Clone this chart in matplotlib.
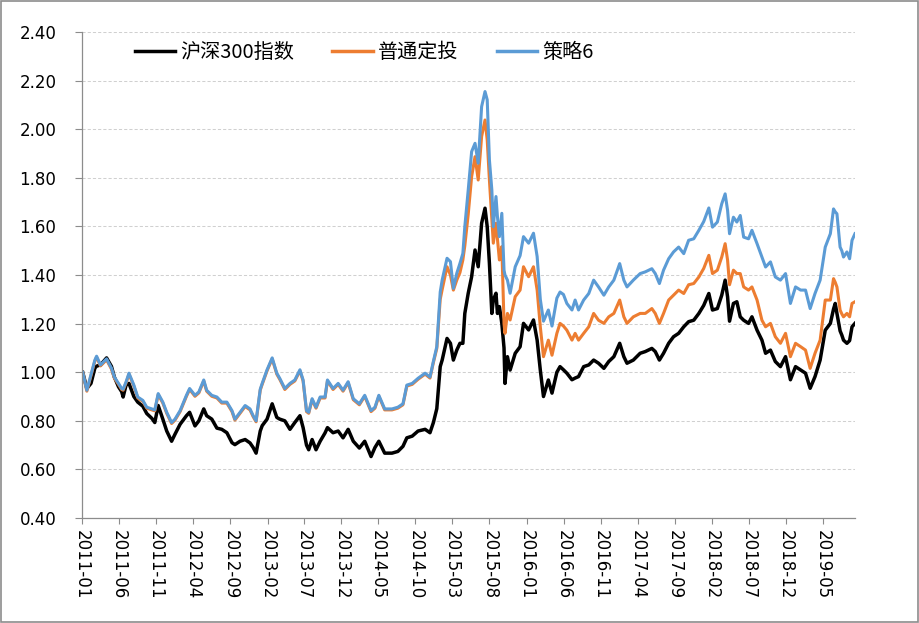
import pandas as pd
import matplotlib
matplotlib.use("Agg")
import matplotlib.pyplot as plt
import matplotlib.dates as mdates
from matplotlib.patches import Rectangle

plt.rcParams['font.family'] = ['DejaVu Sans']

# values (normalised net value)
dates = [
    "2011-01-04", "2011-01-21", "2011-02-07", "2011-02-23", "2011-03-02", "2011-03-18",
    "2011-04-12", "2011-05-02", "2011-05-14", "2011-05-31", "2011-06-13", "2011-06-19",
    "2011-07-01", "2011-07-13", "2011-08-02", "2011-08-18", "2011-09-08", "2011-09-24",
    "2011-10-15", "2011-10-27", "2011-11-10", "2011-11-29", "2011-12-15", "2012-01-04",
    "2012-01-18", "2012-02-08", "2012-03-05", "2012-03-18", "2012-04-09", "2012-04-25",
    "2012-05-15", "2012-05-27", "2012-06-17", "2012-07-08", "2012-07-28", "2012-08-18",
    "2012-09-08", "2012-09-20", "2012-10-11", "2012-11-01", "2012-11-21", "2012-12-04",
    "2012-12-16", "2013-01-02", "2013-01-10", "2013-01-30", "2013-02-20", "2013-03-11",
    "2013-03-23", "2013-04-13", "2013-05-04", "2013-05-24", "2013-06-14", "2013-06-27",
    "2013-07-11", "2013-07-20", "2013-08-03", "2013-08-19", "2013-09-05", "2013-09-25",
    "2013-10-05", "2013-10-28", "2013-11-18", "2013-12-08", "2013-12-29", "2014-01-19",
    "2014-02-13", "2014-03-07", "2014-04-02", "2014-04-18", "2014-05-04", "2014-05-28",
    "2014-06-27", "2014-07-21", "2014-08-11", "2014-08-27", "2014-09-18", "2014-10-12",
    "2014-11-10", "2014-11-30", "2014-12-14", "2014-12-28", "2015-01-11", "2015-01-19",
    "2015-02-08", "2015-02-22", "2015-03-06", "2015-03-20", "2015-04-02", "2015-04-14",
    "2015-04-22", "2015-05-06", "2015-05-20", "2015-06-03", "2015-06-16", "2015-06-30",
    "2015-07-14", "2015-07-23", "2015-08-01", "2015-08-11", "2015-08-17", "2015-08-28",
    "2015-09-03", "2015-09-11", "2015-09-21", "2015-09-30", "2015-10-04", "2015-10-14",
    "2015-10-25", "2015-11-15", "2015-12-05", "2015-12-19", "2016-01-09", "2016-01-29",
    "2016-02-13", "2016-02-26", "2016-03-10", "2016-03-30", "2016-04-14", "2016-05-04",
    "2016-05-17", "2016-05-31", "2016-06-14", "2016-07-05", "2016-07-18", "2016-08-01",
    "2016-08-22", "2016-09-12", "2016-10-02", "2016-10-22", "2016-11-13", "2016-12-03",
    "2016-12-24", "2017-01-17", "2017-02-03", "2017-02-16", "2017-03-14", "2017-04-11",
    "2017-05-02", "2017-05-29", "2017-06-12", "2017-06-29", "2017-07-16", "2017-08-06",
    "2017-08-26", "2017-09-16", "2017-10-07", "2017-10-27", "2017-11-17", "2017-12-08",
    "2017-12-28", "2018-01-18", "2018-02-02", "2018-02-22", "2018-03-12", "2018-03-26",
    "2018-04-05", "2018-04-13", "2018-04-29", "2018-05-13", "2018-05-27", "2018-06-10",
    "2018-06-30", "2018-07-14", "2018-08-04", "2018-08-24", "2018-09-08", "2018-09-28",
    "2018-10-18", "2018-11-08", "2018-11-29", "2018-12-19", "2019-01-09", "2019-01-30",
    "2019-02-19", "2019-03-10", "2019-03-30", "2019-04-20", "2019-05-11", "2019-06-01",
    "2019-06-14", "2019-06-21", "2019-06-28", "2019-07-11", "2019-07-18", "2019-07-25",
    "2019-08-08", "2019-08-19", "2019-08-29", "2019-09-10",
]

hs300 = [
    1.000, 0.933, 0.954, 1.017, 1.025, 1.030, 1.059, 1.024, 0.980, 0.940, 0.920, 0.898,
    0.947, 0.954, 0.900, 0.877, 0.860, 0.830, 0.810, 0.793, 0.863, 0.807, 0.758, 0.716,
    0.745, 0.786, 0.821, 0.835, 0.779, 0.800, 0.849, 0.821, 0.807, 0.770, 0.765, 0.751,
    0.710, 0.702, 0.716, 0.723, 0.709, 0.690, 0.667, 0.758, 0.780, 0.807, 0.870, 0.814,
    0.807, 0.800, 0.765, 0.793, 0.821, 0.772, 0.700, 0.681, 0.723, 0.681, 0.716, 0.750,
    0.772, 0.751, 0.758, 0.730, 0.765, 0.716, 0.688, 0.716, 0.653, 0.690, 0.716, 0.667,
    0.667, 0.674, 0.695, 0.730, 0.737, 0.758, 0.765, 0.751, 0.793, 0.850, 1.023, 1.050,
    1.139, 1.119, 1.050, 1.091, 1.119, 1.119, 1.242, 1.325, 1.393, 1.503, 1.434, 1.613,
    1.675, 1.599, 1.448, 1.242, 1.297, 1.325, 1.242, 1.270, 1.201, 1.100, 0.954, 1.064,
    1.009, 1.078, 1.105, 1.201, 1.174, 1.215, 1.132, 1.009, 0.900, 0.968, 0.914, 1.000,
    1.023, 1.010, 0.996, 0.969, 0.976, 0.982, 1.023, 1.030, 1.050, 1.037, 1.016, 1.044,
    1.064, 1.119, 1.064, 1.037, 1.050, 1.078, 1.085, 1.098, 1.085, 1.050, 1.078, 1.119,
    1.146, 1.160, 1.187, 1.208, 1.214, 1.242, 1.275, 1.324, 1.256, 1.262, 1.317, 1.379,
    1.310, 1.210, 1.283, 1.290, 1.228, 1.214, 1.201, 1.228, 1.173, 1.132, 1.078, 1.091,
    1.044, 1.023, 1.064, 0.969, 1.023, 1.009, 0.996, 0.934, 0.982, 1.050, 1.173, 1.201,
    1.260, 1.283, 1.242, 1.170, 1.153, 1.132, 1.119, 1.130, 1.187, 1.201,
]

dca = [
    1.000, 0.922, 0.986, 1.046, 1.062, 1.026, 1.051, 1.013, 0.976, 0.950, 0.929, 0.926,
    0.956, 0.992, 0.943, 0.894, 0.880, 0.852, 0.845, 0.841, 0.908, 0.873, 0.831, 0.789,
    0.803, 0.838, 0.901, 0.929, 0.901, 0.915, 0.964, 0.922, 0.901, 0.894, 0.873, 0.873,
    0.838, 0.803, 0.831, 0.859, 0.845, 0.817, 0.796, 0.926, 0.950, 1.006, 1.055, 0.992,
    0.971, 0.929, 0.950, 0.964, 1.006, 0.964, 0.838, 0.831, 0.887, 0.852, 0.894, 0.894,
    0.964, 0.929, 0.950, 0.922, 0.957, 0.887, 0.866, 0.901, 0.838, 0.852, 0.901, 0.845,
    0.845, 0.852, 0.866, 0.943, 0.950, 0.971, 0.992, 0.976, 1.040, 1.098, 1.300, 1.340,
    1.434, 1.400, 1.338, 1.379, 1.410, 1.462, 1.520, 1.650, 1.805, 1.887, 1.791, 1.970,
    2.038, 1.956, 1.791, 1.627, 1.531, 1.613, 1.550, 1.462, 1.517, 1.200, 1.160, 1.242,
    1.215, 1.311, 1.338, 1.434, 1.393, 1.434, 1.338, 1.187, 1.064, 1.132, 1.070, 1.160,
    1.201, 1.190, 1.173, 1.132, 1.160, 1.132, 1.160, 1.187, 1.242, 1.214, 1.201, 1.228,
    1.242, 1.297, 1.228, 1.201, 1.228, 1.242, 1.242, 1.262, 1.242, 1.201, 1.242, 1.297,
    1.317, 1.338, 1.324, 1.360, 1.365, 1.392, 1.427, 1.481, 1.406, 1.420, 1.474, 1.529,
    1.461, 1.360, 1.420, 1.406, 1.406, 1.351, 1.338, 1.351, 1.297, 1.214, 1.187, 1.201,
    1.146, 1.119, 1.160, 1.064, 1.119, 1.105, 1.091, 1.016, 1.078, 1.132, 1.297, 1.297,
    1.385, 1.370, 1.351, 1.256, 1.240, 1.228, 1.242, 1.228, 1.283, 1.290,
]

strategy6 = [
    1.000, 0.926, 0.990, 1.050, 1.066, 1.030, 1.055, 1.017, 0.980, 0.954, 0.933, 0.930,
    0.960, 0.996, 0.947, 0.898, 0.884, 0.856, 0.849, 0.845, 0.912, 0.877, 0.835, 0.793,
    0.807, 0.842, 0.905, 0.933, 0.905, 0.919, 0.968, 0.926, 0.905, 0.898, 0.877, 0.877,
    0.842, 0.807, 0.835, 0.863, 0.849, 0.821, 0.800, 0.930, 0.954, 1.010, 1.059, 0.996,
    0.975, 0.933, 0.954, 0.968, 1.010, 0.968, 0.842, 0.835, 0.891, 0.856, 0.898, 0.898,
    0.968, 0.933, 0.954, 0.926, 0.961, 0.891, 0.870, 0.905, 0.842, 0.856, 0.905, 0.849,
    0.849, 0.856, 0.870, 0.947, 0.954, 0.975, 0.996, 0.980, 1.045, 1.105, 1.330, 1.379,
    1.469, 1.455, 1.345, 1.407, 1.448, 1.489, 1.599, 1.750, 1.908, 1.942, 1.860, 2.093,
    2.155, 2.121, 1.874, 1.750, 1.599, 1.723, 1.640, 1.558, 1.654, 1.420, 1.400, 1.379,
    1.325, 1.434, 1.480, 1.558, 1.531, 1.572, 1.476, 1.300, 1.210, 1.256, 1.190, 1.305,
    1.330, 1.320, 1.283, 1.256, 1.297, 1.256, 1.297, 1.324, 1.379, 1.351, 1.317, 1.351,
    1.379, 1.447, 1.379, 1.351, 1.379, 1.406, 1.413, 1.426, 1.406, 1.365, 1.420, 1.467,
    1.495, 1.515, 1.488, 1.543, 1.549, 1.584, 1.620, 1.676, 1.597, 1.618, 1.693, 1.734,
    1.666, 1.570, 1.638, 1.618, 1.645, 1.556, 1.549, 1.584, 1.529, 1.474, 1.433, 1.454,
    1.392, 1.379, 1.406, 1.283, 1.351, 1.338, 1.338, 1.262, 1.324, 1.379, 1.515, 1.570,
    1.672, 1.660, 1.652, 1.515, 1.500, 1.474, 1.495, 1.467, 1.543, 1.570,
]

series_names = ["沪深300指数", "普通定投", "策略6"]
series_colors = ["#000000", "#ED7D31", "#5B9BD5"]

x = pd.to_datetime(dates)

fig = plt.figure(figsize=(9.2, 6.23), dpi=100)
ax = fig.add_axes([0.0891, 0.1685, 0.8402, 0.7801])

for vals, name, col, lw in zip([hs300, dca, strategy6], series_names, series_colors,
                               [2.5, 2.2, 2.2]):
    ax.plot(x, vals, color=col, lw=lw, label=name, solid_joinstyle="round")

ax.set_ylim(0.4, 2.4)
ax.set_yticks([0.4 + 0.2 * i for i in range(11)])
ax.yaxis.set_major_formatter(plt.FormatStrFormatter("%.2f"))
ax.set_xlim(pd.Timestamp("2011-01-01"), pd.Timestamp("2019-09-10"))

tick_dates = pd.date_range("2011-01-01", "2019-05-01", freq="5MS")
ax.set_xticks(tick_dates)
ax.xaxis.set_major_formatter(mdates.DateFormatter("%Y-%m"))
plt.setp(ax.get_xticklabels(), rotation=270, ha="center", va="top")

ax.grid(axis="y", color="#D0D0D0", linestyle=(0, (3, 2)), linewidth=0.75)
ax.set_axisbelow(True)

for side in ["top", "right"]:
    ax.spines[side].set_visible(False)
for side in ["left", "bottom"]:
    ax.spines[side].set_color("#8C8C8C")
    ax.spines[side].set_linewidth(0.9)

ax.tick_params(axis="y", direction="out", length=5, color="#8C8C8C", pad=13.5,
               labelsize=12, labelcolor="#000000")
ax.tick_params(axis="x", direction="out", length=4.5, color="#8C8C8C", pad=4,
               labelsize=12, labelcolor="#000000")

leg = ax.legend(loc="center left", bbox_to_anchor=(0.0556, 0.957), ncol=3,
                frameon=False, borderpad=0, handlelength=2.0, handletextpad=0.25,
                columnspacing=1.9,
                prop={"family": ["Noto Sans CJK SC", "DejaVu Sans"], "size": 14.5})
for line in leg.get_lines():
    line.set_linewidth(2.5)

# chart border like the Excel chart area
fig.patches.append(Rectangle((0.001, 0.002), 0.997, 0.996, transform=fig.transFigure,
                             fill=False, edgecolor="#8C8C8C", linewidth=1.2))

fig.savefig("out.png", dpi=100)
